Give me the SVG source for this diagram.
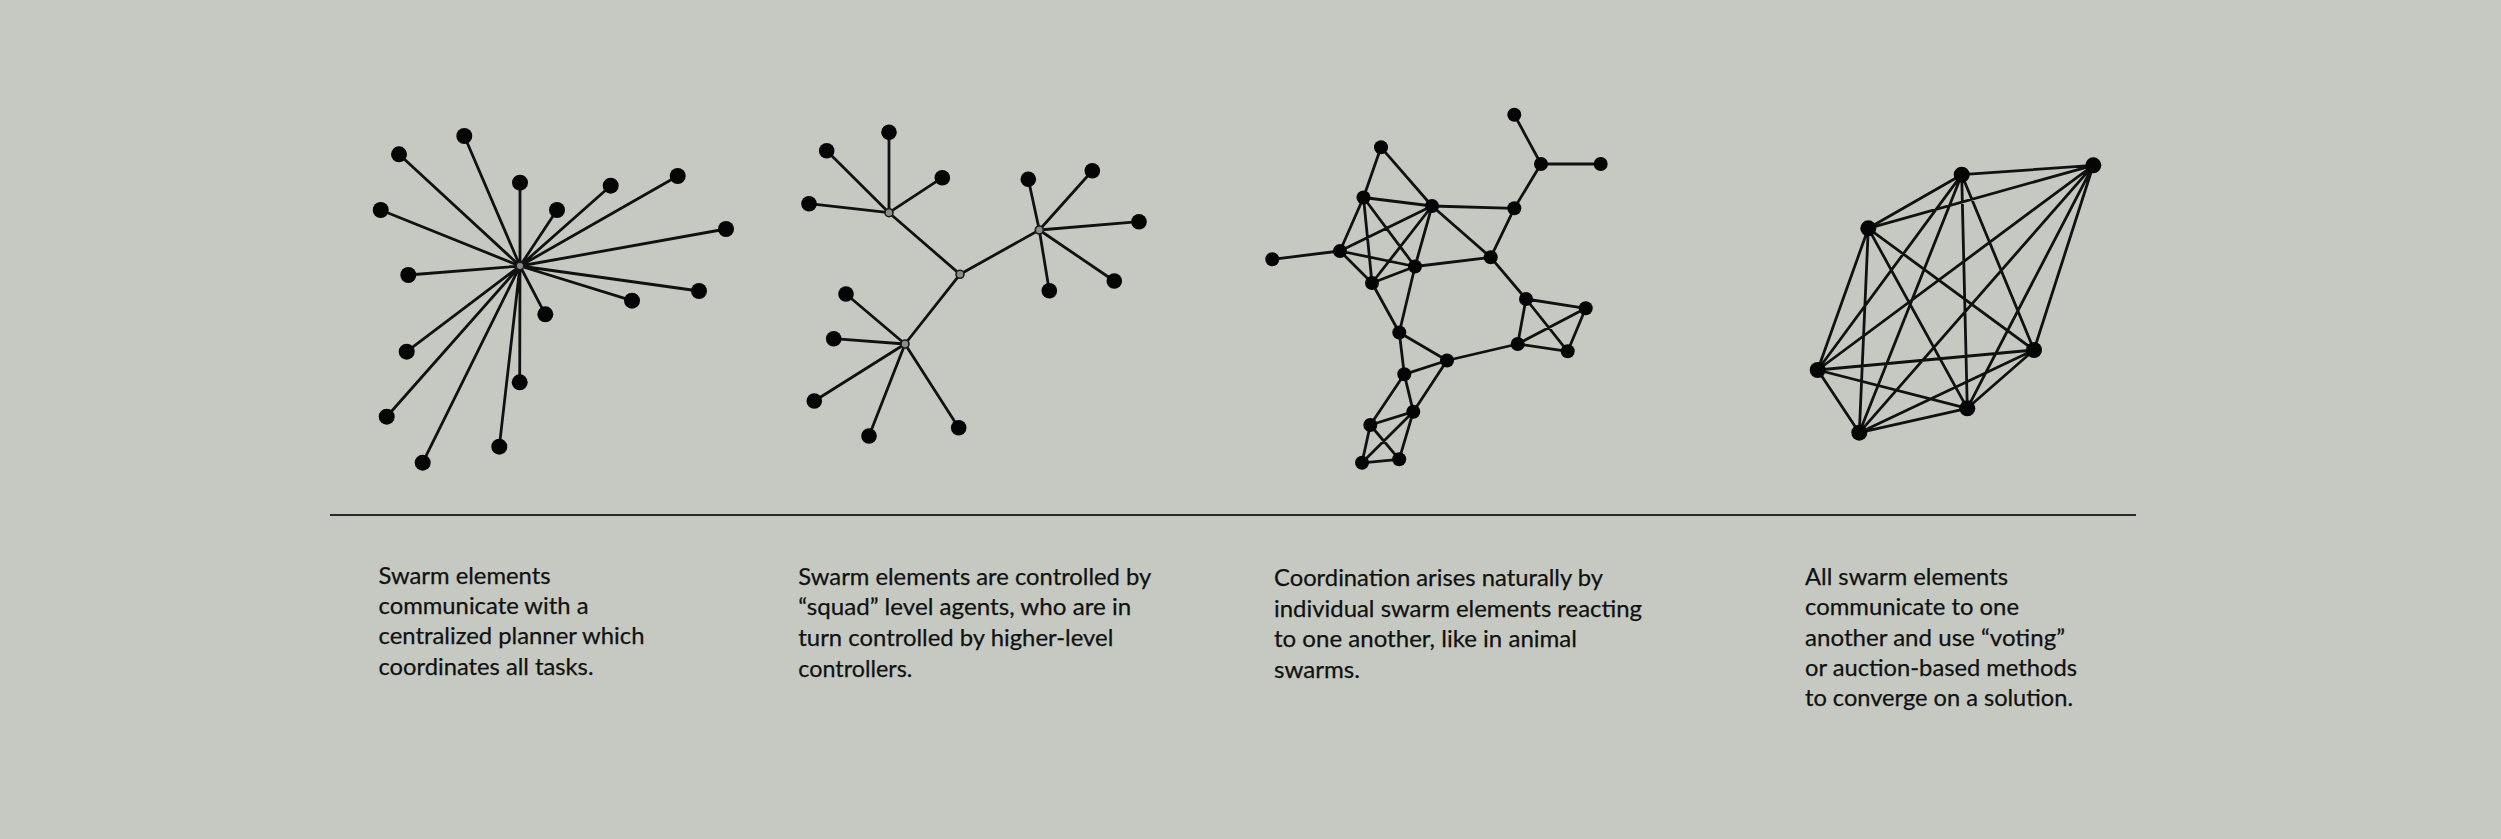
<svg xmlns="http://www.w3.org/2000/svg" width="2501" height="839" viewBox="0 0 2501 839">
<style>
.e{stroke:#111;stroke-width:2.8;stroke-linecap:round;fill:none}
.n{fill:#050505}
.h{fill:#8a8d88;stroke:#1a1a1a;stroke-width:1.6}
.t{font-family:Lato,"Open Sans","Liberation Sans",sans-serif;font-size:24px;fill:#111;stroke:#111;stroke-width:0.25}
</style>
<rect width="2501" height="839" fill="#c5c9c2"/>
<line x1="330" y1="515" x2="2136" y2="515" stroke="#2a2a2a" stroke-width="2.2"/>

<g id="connectors">
<g id="c1">
<path class="e" d="M520 266L464.3 136M520 266L399 154.3M520 266L520 182.7M520 266L610.7 185.7M520 266L677.7 176M520 266L557 210M520 266L380.7 210M520 266L726 229M520 266L408.3 275M520 266L699 291M520 266L632 300.7M520 266L545.3 314.3M520 266L406.7 351.7M520 266L519.7 382.3M520 266L386.7 416.7M520 266L499.3 446.7M520 266L422.7 462.7"/>
</g>
<g id="c2">
<path class="e" d="M889 212.7L960 274.3L1039.3 230M960 274.3L905 344M889 212.7L889 132.3M889 212.7L826.7 150.7M889 212.7L942.3 177.7M889 212.7L809 203.7M1039.3 230L1028.3 179.3M1039.3 230L1092.3 170.7M1039.3 230L1139 221.7M1039.3 230L1114.3 281M1039.3 230L1049.3 290.7M905 344L846 294M905 344L833.7 338.7M905 344L814.3 401M905 344L869 436M905 344L958.7 427.7"/>
</g>
<g id="c3">
<path class="e" d="M1514.3 114.7L1541 164L1600.7 164M1541 164L1514.3 208.3M1381 147.3L1363.5 197.5M1381 147.3L1432 206M1363.5 197.5L1432 206M1363.5 197.5L1340 251M1363.5 197.5L1372 283M1363.5 197.5L1415 266.5M1432 206L1340 251M1432 206L1372 283M1432 206L1415 266.5M1432 206L1514.3 208.3M1432 206L1490.7 257.3M1272.3 259.3L1340 251M1340 251L1415 266.5M1340 251L1372 283M1415 266.5L1372 283M1415 266.5L1490.7 257.3M1514.3 208.3L1490.7 257.3M1372 283L1399.3 332.5M1415 266.5L1399.3 332.5M1490.7 257.3L1526 299M1526 299L1585.7 308.3M1526 299L1517.7 344M1526 299L1567.7 351.3M1585.7 308.3L1517.7 344M1585.7 308.3L1567.7 351.3M1517.7 344L1567.7 351.3M1517.7 344L1447 360.5M1399.3 332.5L1447 360.5M1399.3 332.5L1404.3 374.3M1404.3 374.3L1447 360.5M1447 360.5L1413.3 411.7M1404.3 374.3L1413.3 411.7M1404.3 374.3L1370.3 425M1413.3 411.7L1370.3 425M1370.3 425L1362 462.8M1370.3 425L1399.2 459.3M1413.3 411.7L1362 462.8M1413.3 411.7L1399.2 459.3M1362 462.8L1399.2 459.3"/>
</g>
<g id="c4">
<path class="e" d="M1961.7 174.7L2093.3 165.3M1961.7 174.7L1868.3 228.3M1961.7 174.7L2034 350M1961.7 174.7L1817.7 370M1961.7 174.7L1967.3 408.3M1961.7 174.7L1859.3 432.7M2093.3 165.3L1868.3 228.3M2093.3 165.3L2034 350M2093.3 165.3L1817.7 370M2093.3 165.3L1967.3 408.3M2093.3 165.3L1859.3 432.7M1868.3 228.3L2034 350M1868.3 228.3L1817.7 370M1868.3 228.3L1967.3 408.3M1868.3 228.3L1859.3 432.7M2034 350L1817.7 370M2034 350L1967.3 408.3M2034 350L1859.3 432.7M1817.7 370L1967.3 408.3M1817.7 370L1859.3 432.7M1967.3 408.3L1859.3 432.7"/>
</g>
</g>

<g id="centralized">
<circle class="n" cx="464.3" cy="136" r="8"/><circle class="n" cx="399" cy="154.3" r="8"/><circle class="n" cx="520" cy="182.7" r="8"/><circle class="n" cx="610.7" cy="185.7" r="8"/><circle class="n" cx="677.7" cy="176" r="8"/><circle class="n" cx="557" cy="210" r="8"/><circle class="n" cx="380.7" cy="210" r="8"/><circle class="n" cx="726" cy="229" r="8"/><circle class="n" cx="408.3" cy="275" r="8"/><circle class="n" cx="699" cy="291" r="8"/><circle class="n" cx="632" cy="300.7" r="8"/><circle class="n" cx="545.3" cy="314.3" r="8"/><circle class="n" cx="406.7" cy="351.7" r="8"/><circle class="n" cx="519.7" cy="382.3" r="8"/><circle class="n" cx="386.7" cy="416.7" r="8"/><circle class="n" cx="499.3" cy="446.7" r="8"/><circle class="n" cx="422.7" cy="462.7" r="8"/>
<circle id="planner" class="h" cx="520" cy="266" r="3.8"/>
</g>

<g id="hierarchical">
<circle class="h" cx="889" cy="212.7" r="4"/><circle class="h" cx="960" cy="274.3" r="4"/><circle class="h" cx="1039.3" cy="230" r="4"/><circle class="h" cx="905" cy="344" r="4"/>
<circle class="n" cx="889" cy="132.3" r="7.8"/><circle class="n" cx="826.7" cy="150.7" r="7.8"/><circle class="n" cx="942.3" cy="177.7" r="7.8"/><circle class="n" cx="809" cy="203.7" r="7.8"/>
<circle class="n" cx="1028.3" cy="179.3" r="7.8"/><circle class="n" cx="1092.3" cy="170.7" r="7.8"/><circle class="n" cx="1139" cy="221.7" r="7.8"/><circle class="n" cx="1114.3" cy="281" r="7.8"/><circle class="n" cx="1049.3" cy="290.7" r="7.8"/>
<circle class="n" cx="846" cy="294" r="7.8"/><circle class="n" cx="833.7" cy="338.7" r="7.8"/><circle class="n" cx="814.3" cy="401" r="7.8"/><circle class="n" cx="869" cy="436" r="7.8"/><circle class="n" cx="958.7" cy="427.7" r="7.8"/>
</g>

<g id="emergent">
<circle class="n" cx="1514.3" cy="114.7" r="7"/><circle class="n" cx="1541" cy="164" r="7"/><circle class="n" cx="1600.7" cy="164" r="7"/><circle class="n" cx="1381" cy="147.3" r="7"/><circle class="n" cx="1363.5" cy="197.5" r="7"/><circle class="n" cx="1432" cy="206" r="7"/><circle class="n" cx="1514.3" cy="208.3" r="7"/><circle class="n" cx="1272.3" cy="259.3" r="7"/><circle class="n" cx="1340" cy="251" r="7"/><circle class="n" cx="1415" cy="266.5" r="7"/><circle class="n" cx="1490.7" cy="257.3" r="7"/><circle class="n" cx="1372" cy="283" r="7"/><circle class="n" cx="1526" cy="299" r="7"/><circle class="n" cx="1585.7" cy="308.3" r="7"/><circle class="n" cx="1399.3" cy="332.5" r="7"/><circle class="n" cx="1517.7" cy="344" r="7"/><circle class="n" cx="1567.7" cy="351.3" r="7"/><circle class="n" cx="1447" cy="360.5" r="7"/><circle class="n" cx="1404.3" cy="374.3" r="7"/><circle class="n" cx="1413.3" cy="411.7" r="7"/><circle class="n" cx="1370.3" cy="425" r="7"/><circle class="n" cx="1362" cy="462.8" r="7"/><circle class="n" cx="1399.2" cy="459.3" r="7"/>
</g>

<g id="distributed">
<circle class="n" cx="1961.7" cy="174.7" r="8"/><circle class="n" cx="2093.3" cy="165.3" r="8"/><circle class="n" cx="1868.3" cy="228.3" r="8"/><circle class="n" cx="2034" cy="350" r="8"/><circle class="n" cx="1817.7" cy="370" r="8"/><circle class="n" cx="1967.3" cy="408.3" r="8"/><circle class="n" cx="1859.3" cy="432.7" r="8"/>
</g>

<g id="labels" class="t">
<text x="378.5" y="583.5" textLength="172" lengthAdjust="spacingAndGlyphs">Swarm elements</text>
<text x="378.5" y="613.5" textLength="210" lengthAdjust="spacingAndGlyphs">communicate with a</text>
<text x="378.5" y="644.3" textLength="266" lengthAdjust="spacingAndGlyphs">centralized planner which</text>
<text x="378.5" y="675" textLength="215" lengthAdjust="spacingAndGlyphs">coordinates all tasks.</text>

<text x="798.3" y="585" textLength="353" lengthAdjust="spacingAndGlyphs">Swarm elements are controlled by</text>
<text x="798.3" y="615" textLength="333" lengthAdjust="spacingAndGlyphs">“squad” level agents, who are in</text>
<text x="798.3" y="645.5" textLength="315" lengthAdjust="spacingAndGlyphs">turn controlled by higher-level</text>
<text x="798.3" y="676.5" textLength="114" lengthAdjust="spacingAndGlyphs">controllers.</text>

<text x="1274" y="586" textLength="329" lengthAdjust="spacingAndGlyphs">Coordination arises naturally by</text>
<text x="1274" y="616.7" textLength="368" lengthAdjust="spacingAndGlyphs">individual swarm elements reacting</text>
<text x="1274" y="647.3" textLength="303" lengthAdjust="spacingAndGlyphs">to one another, like in animal</text>
<text x="1274" y="677.7" textLength="86" lengthAdjust="spacingAndGlyphs">swarms.</text>

<text x="1805" y="585" textLength="203" lengthAdjust="spacingAndGlyphs">All swarm elements</text>
<text x="1805" y="615" textLength="214" lengthAdjust="spacingAndGlyphs">communicate to one</text>
<text x="1805" y="645.7" textLength="260" lengthAdjust="spacingAndGlyphs">another and use “voting”</text>
<text x="1805" y="675.7" textLength="272" lengthAdjust="spacingAndGlyphs">or auction-based methods</text>
<text x="1805" y="705.7" textLength="268" lengthAdjust="spacingAndGlyphs">to converge on a solution.</text>
</g>
</svg>
